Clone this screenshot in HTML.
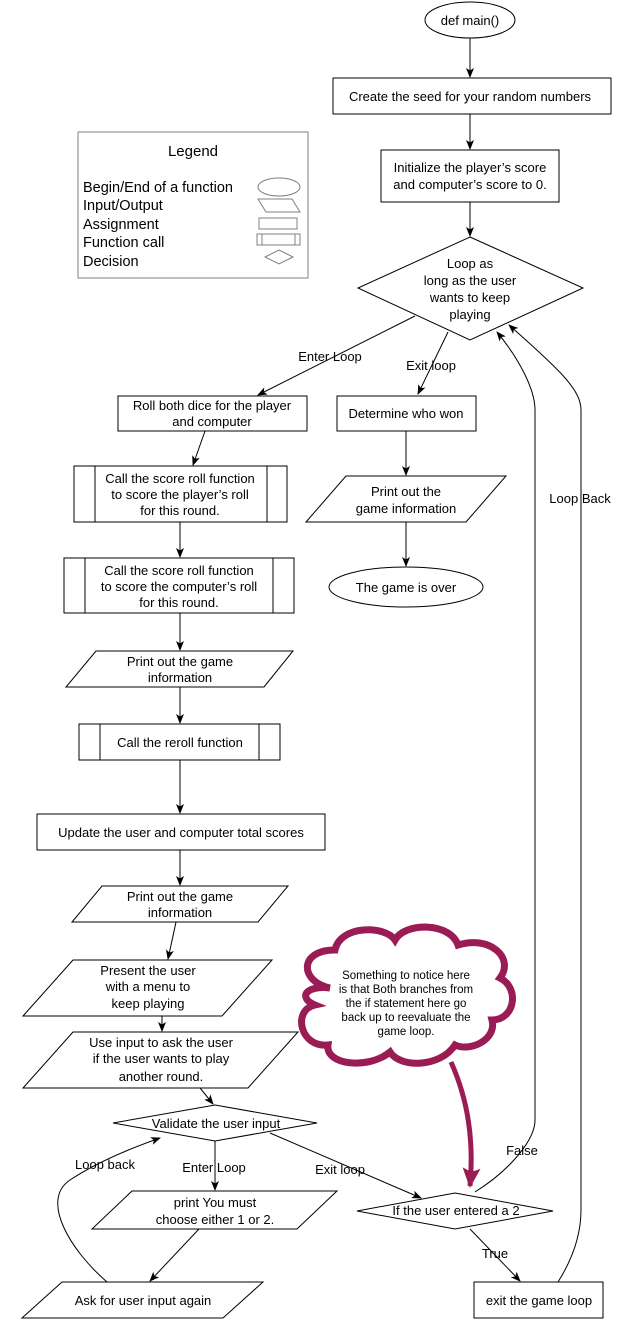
<!DOCTYPE html>
<html><head><meta charset="utf-8"><style>
html,body{margin:0;padding:0;background:#fff}
svg{display:block}
text{font-family:"Liberation Sans",Arial,sans-serif;font-size:13px;fill:#000}
</style></head><body>
<svg width="619" height="1320" viewBox="0 0 619 1320" xmlns="http://www.w3.org/2000/svg">
<defs>
<marker id="a" markerWidth="10" markerHeight="8" refX="9" refY="4" orient="auto" markerUnits="userSpaceOnUse"><path d="M0,0 L10,4 L0,8 L2.5,4 Z" fill="#000"/></marker>
<marker id="b" markerWidth="20" markerHeight="18" refX="18" refY="9" orient="auto" markerUnits="userSpaceOnUse"><path d="M0,0 L20,9 L0,18 L4,9 Z" fill="#9b1b55"/></marker>
</defs>
<g fill="#fff" stroke="#000" stroke-width="1">
<ellipse cx="470" cy="20" rx="45" ry="18"/>
<rect x="333" y="78" width="278" height="36"/>
<rect x="381" y="150" width="178" height="52"/>
<polygon points="470,237 583,288 470,340 358,288"/>
<rect x="118" y="396" width="189" height="35"/>
<rect x="337" y="396" width="139" height="35"/>
<rect x="74" y="466" width="213" height="56"/><line x1="95" y1="466" x2="95" y2="522"/><line x1="267" y1="466" x2="267" y2="522"/>
<rect x="64" y="558" width="230" height="55"/><line x1="85" y1="558" x2="85" y2="613"/><line x1="273" y1="558" x2="273" y2="613"/>
<polygon points="96,651 293,651 264,687 66,687"/>
<rect x="79" y="724" width="201" height="36"/><line x1="100" y1="724" x2="100" y2="760"/><line x1="259" y1="724" x2="259" y2="760"/>
<rect x="37" y="814" width="288" height="36"/>
<polygon points="102,886 288,886 258,922 72,922"/>
<polygon points="73,960 272,960 222,1016 23,1016"/>
<polygon points="73,1032 298,1032 248,1088 23,1088"/>
<polygon points="215,1105 317,1123 215,1141 113,1123"/>
<polygon points="132,1191 337,1191 297,1229 92,1229"/>
<polygon points="62,1282 263,1282 223,1318 22,1318"/>
<polygon points="455,1193 553,1211 455,1229 357,1211"/>
<rect x="474" y="1282" width="129" height="36"/>
<polygon points="346,476 506,476 466,522 306,522"/>
<ellipse cx="406" cy="587" rx="77" ry="20"/>
</g>
<g fill="none" stroke="#808080">
<rect x="78" y="132" width="230" height="146"/>
<ellipse cx="279" cy="187" rx="21" ry="9"/>
<polygon points="258,199 292,199 300,212 266,212"/>
<rect x="259" y="218" width="38" height="11"/>
<rect x="257" y="234" width="43" height="11"/><line x1="262" y1="234" x2="262" y2="245"/><line x1="295" y1="234" x2="295" y2="245"/>
<polygon points="279,250 293,257 279,264 265,257"/>
</g>
<g fill="none" stroke="#000" stroke-width="1" marker-end="url(#a)">
<line x1="470" y1="38" x2="470" y2="77"/>
<line x1="470" y1="114" x2="470" y2="149"/>
<line x1="470" y1="202" x2="470" y2="236"/>
<line x1="415" y1="316" x2="258" y2="395"/>
<line x1="448" y1="332" x2="418" y2="394"/>
<line x1="406" y1="431" x2="406" y2="475"/>
<line x1="406" y1="522" x2="406" y2="566"/>
<line x1="205" y1="431" x2="193" y2="465"/>
<line x1="180" y1="522" x2="180" y2="557"/>
<line x1="180" y1="613" x2="180" y2="650"/>
<line x1="180" y1="687" x2="180" y2="723"/>
<line x1="180" y1="760" x2="180" y2="813"/>
<line x1="180" y1="850" x2="180" y2="885"/>
<line x1="176" y1="922" x2="168" y2="959"/>
<line x1="162" y1="1016" x2="162" y2="1031"/>
<line x1="200" y1="1088" x2="213" y2="1104"/>
<line x1="215" y1="1141" x2="215" y2="1190"/>
<line x1="270" y1="1133" x2="421" y2="1198"/>
<line x1="199" y1="1229" x2="150" y2="1281"/>
<path d="M107,1282 C70,1250 40,1200 70,1180 C100,1160 140,1145 160,1138"/>
<line x1="470" y1="1229" x2="520" y2="1281"/>
<path d="M475,1192 C510,1170 535,1140 535,1120 L535,410 C535,390 520,360 497,332"/>
<path d="M558,1282 C575,1255 581,1230 581,1210 L581,410 C581,390 560,370 509,325"/>
</g>
<path d="M451,1062 C468,1100 474,1140 470,1186" fill="none" stroke="#9b1b55" stroke-width="5" marker-end="url(#b)"/>
<path d="M330,988 C300,982 298,950 335,950 C340,925 385,925 395,940 C405,922 450,922 458,945 C490,935 515,958 500,978 C520,988 515,1020 492,1020 C497,1040 470,1052 455,1045 C440,1068 400,1068 390,1052 C368,1070 325,1065 328,1045 C300,1048 292,1010 315,1005 C298,998 305,985 330,988 Z" fill="#fff" stroke="#9b1b55" stroke-width="7"/>
<g text-anchor="middle">
<text x="470" y="25">def main()</text>
<text x="470" y="101">Create the seed for your random numbers</text>
<text x="470" y="172">Initialize the player’s score</text>
<text x="470" y="189">and computer’s score to 0.</text>
<text x="470" y="268">Loop as</text>
<text x="470" y="285">long as the user</text>
<text x="470" y="302">wants to keep</text>
<text x="470" y="319">playing</text>
<text x="193" y="156" style="font-size:15px">Legend</text>
<text x="212" y="410">Roll both dice for the player</text>
<text x="212" y="426">and computer</text>
<text x="406" y="418">Determine who won</text>
<text x="180" y="483">Call the score roll function</text>
<text x="180" y="499">to score the player’s roll</text>
<text x="180" y="515">for this round.</text>
<text x="179" y="575">Call the score roll function</text>
<text x="179" y="591">to score the computer’s roll</text>
<text x="179" y="607">for this round.</text>
<text x="180" y="666">Print out the game</text>
<text x="180" y="682">information</text>
<text x="180" y="747">Call the reroll function</text>
<text x="181" y="837">Update the user and computer total scores</text>
<text x="180" y="901">Print out the game</text>
<text x="180" y="917">information</text>
<text x="148" y="975">Present the user</text>
<text x="148" y="991">with a menu to</text>
<text x="148" y="1008">keep playing</text>
<text x="161" y="1047">Use input to ask the user</text>
<text x="161" y="1063">if the user wants to play</text>
<text x="161" y="1081">another round.</text>
<text x="216" y="1128">Validate the user input</text>
<text x="215" y="1207">print You must</text>
<text x="215" y="1224">choose either 1 or 2.</text>
<text x="143" y="1305">Ask for user input again</text>
<text x="456" y="1215">If the user entered a 2</text>
<text x="539" y="1305">exit the game loop</text>
<text x="406" y="496">Print out the</text>
<text x="406" y="513">game information</text>
<text x="406" y="592">The game is over</text>
<text x="330" y="361">Enter Loop</text>
<text x="431" y="370">Exit loop</text>
<text x="580" y="503">Loop Back</text>
<text x="214" y="1172">Enter Loop</text>
<text x="340" y="1174">Exit loop</text>
<text x="105" y="1169">Loop back</text>
<text x="522" y="1155">False</text>
<text x="495" y="1258">True</text>
<text x="406" y="979" style="font-size:11.5px">Something to notice here</text>
<text x="406" y="993" style="font-size:11.5px">is that Both branches from</text>
<text x="406" y="1007" style="font-size:11.5px">the if statement here go</text>
<text x="406" y="1021" style="font-size:11.5px">back up to reevaluate the</text>
<text x="406" y="1035" style="font-size:11.5px">game loop.</text>
</g>
<text x="83" y="192" style="font-size:14.5px">Begin/End of a function</text>
<text x="83" y="210" style="font-size:14.5px">Input/Output</text>
<text x="83" y="229" style="font-size:14.5px">Assignment</text>
<text x="83" y="247" style="font-size:14.5px">Function call</text>
<text x="83" y="266" style="font-size:14.5px">Decision</text>
</svg>
</body></html>
